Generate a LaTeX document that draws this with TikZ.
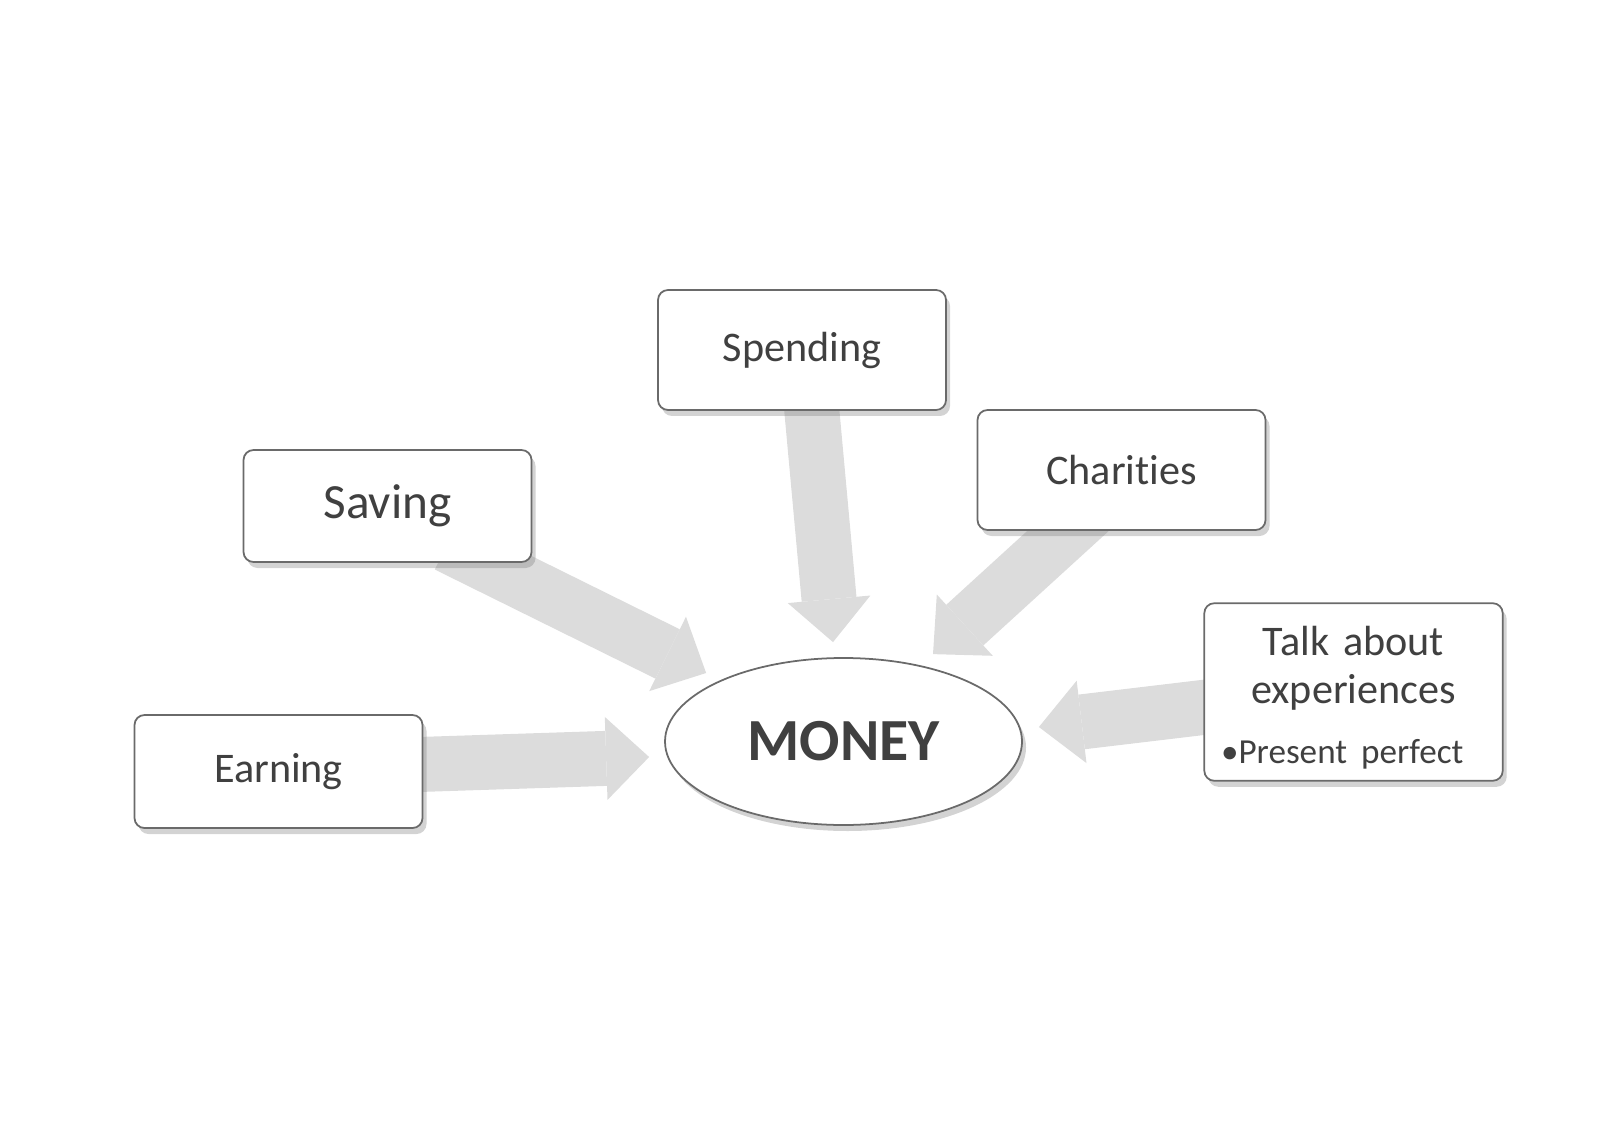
\documentclass[tikz,border=0pt]{standalone}
\usepackage{fontspec}
\setmainfont{Carlito}[Ligatures={NoCommon}]
\usetikzlibrary{shapes.geometric, arrows.meta, shadows, backgrounds}
\definecolor{boxline}{HTML}{6A6A6A}
\definecolor{txtgray}{HTML}{404040}
\definecolor{arrowgray}{HTML}{DCDCDC}
\tikzstyle{topic} = [rectangle, rounded corners=1mm, minimum width=2.88cm, minimum height=1.15cm, text centered, draw=boxline, line width=0.5pt, fill=white, text=txtgray, font=\fontsize{12}{13.7}\selectfont, drop shadow={shadow xshift=0.4mm, shadow yshift=-0.6mm, opacity=0.35}]
\tikzstyle{hub} = [ellipse, minimum width=3.57cm, minimum height=1.67cm, inner sep=0pt, draw=boxline, line width=0.5pt, fill=white, text=txtgray, font=\bfseries\fontsize{17}{20}\selectfont, drop shadow={shadow xshift=0.4mm, shadow yshift=-0.6mm, opacity=0.35}]
\tikzstyle{bigarrow} = [line width=5.5mm, draw=arrowgray, -{Triangle[length=4.3mm, width=8.3mm, line width=0pt]}]
\begin{document}
\begin{tikzpicture}[node distance=2cm]
\useasboundingbox (0,0) rectangle (16,11.31);
\node (money) [hub] at (8.435,3.895) {MONEY};
\node (spending) [topic, above of = money, xshift = -0.415cm, yshift = 1.915cm, minimum height=1.2cm]{Spending};
\node (saving) [topic, left of = money, xshift = -2.56cm, yshift = 2.355cm, minimum height=1.12cm, font=\fontsize{14}{16}\selectfont]{Saving};
\node (charities) [topic, right of = money, xshift = 0.78cm, yshift = 2.715cm, minimum height=1.2cm]{Charities};
\node (earning) [topic, left of = money, xshift = -3.65cm, yshift = -0.3cm, minimum height=1.13cm]{Earning};
\node (talk) [topic, right of = money, xshift = 3.1cm, yshift = 0.495cm, minimum height=1.76cm, text width=2.75cm, align=center]{\rule{0pt}{0.8mm}\\[-1.6mm]Talk about\\experiences\\[1.2mm]\makebox[2.65cm][l]{\fontsize{10}{12}\selectfont\textbullet Present perfect}};
\begin{scope}[on background layer]
\draw [bigarrow] ([xshift=-2mm, yshift=0.65mm]earning.east) -- ([xshift=-1.5mm, yshift=-1.55mm]money.west);
\draw [bigarrow] ([xshift=5.95mm, yshift=1.8mm]saving.south) -- ([xshift=4.2mm, yshift=6.85mm]money.west);
\draw [bigarrow] ([xshift=0.8mm, yshift=2mm]spending.south) -- ([xshift=-1.05mm, yshift=1.5mm]money.north);
\draw [bigarrow] ([xshift=-3.15mm, yshift=2mm]charities.south) -- ([xshift=8.95mm, yshift=0.3mm]money.north);
\draw [bigarrow] ([xshift=2mm, yshift=-1.3mm]talk.west) -- ([xshift=1.6mm, yshift=1.45mm]money.east);
\end{scope}
\end{tikzpicture}
\end{document}
